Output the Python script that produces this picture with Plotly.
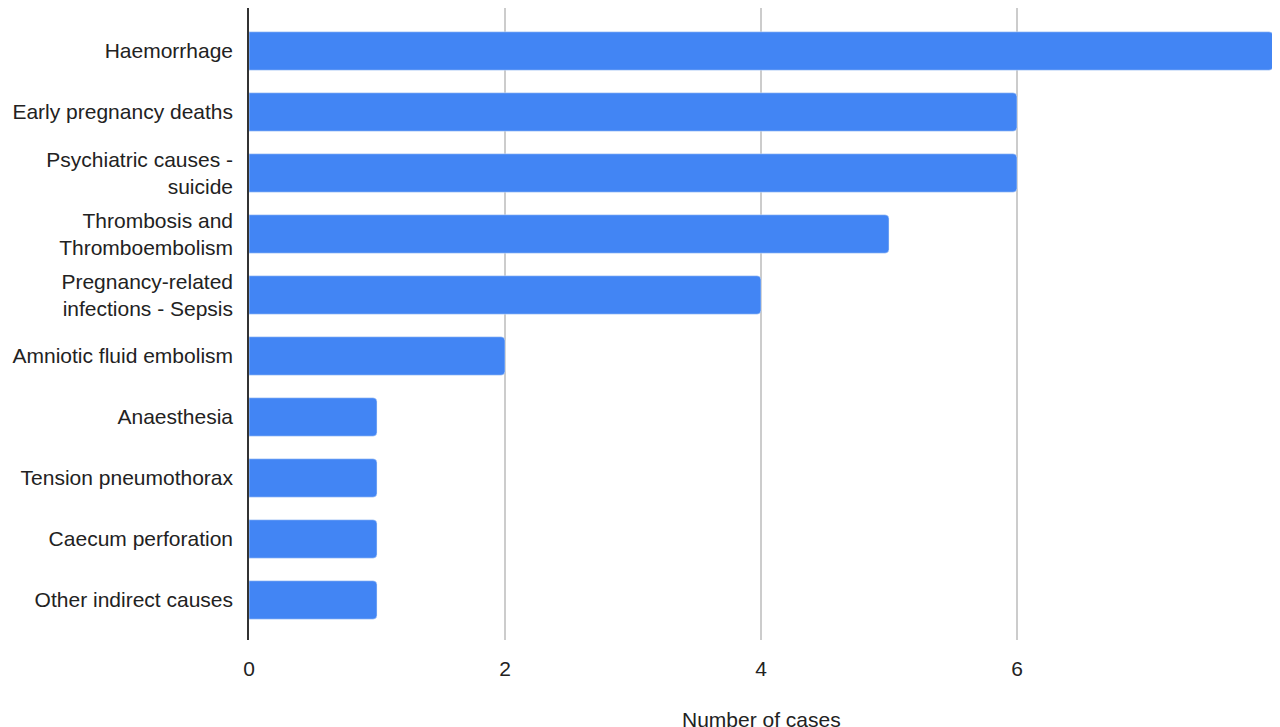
import plotly.graph_objects as go

causes = ["Haemorrhage", "Early pregnancy deaths", "Psychiatric causes -<br>suicide",
          "Thrombosis and<br>Thromboembolism", "Pregnancy-related<br>infections - Sepsis",
          "Amniotic fluid embolism", "Anaesthesia", "Tension pneumothorax",
          "Caecum perforation", "Other indirect causes"]
cases = [8, 6, 6, 5, 4, 2, 1, 1, 1, 1]

fig = go.Figure(go.Bar(x=cases, y=list(range(len(causes))), orientation="h",
                       marker=dict(color="#4285f4"), width=0.63))

fig.update_layout(
    width=1270, height=719,
    margin=dict(l=241, r=5, t=0, b=87),
    paper_bgcolor="white", plot_bgcolor="white",
    font=dict(family="Liberation Sans, Arial", size=21, color="#222222"),
    barcornerradius=4,
    showlegend=False,
    xaxis=dict(range=[0, 8], tickvals=[0, 2, 4, 6, 8], showgrid=True,
               gridcolor="#cccccc", gridwidth=1.5, zeroline=False, ticks="",
               ticklabelstandoff=14),
    yaxis=dict(tickvals=list(range(len(causes))), ticktext=causes,
               range=[9.656, -0.705], showgrid=False, zeroline=False,
               showline=True, linecolor="#333333", linewidth=1.5, ticks="",
               ticklabelstandoff=10),
    annotations=[dict(text="Number of cases", x=0.5, y=-0.125, xref="paper", yref="paper",
                      showarrow=False, yanchor="middle", font=dict(size=21))],
)

fig.write_html("out.html")
